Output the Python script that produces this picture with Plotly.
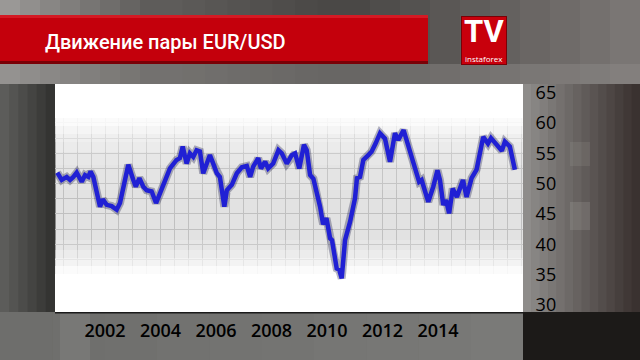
import plotly.graph_objects as go

# ---- data ----
years = [2000.28, 2000.44, 2000.62, 2000.74, 2000.86, 2000.98, 2001.16, 2001.28, 2001.40, 2001.48,
         2001.58, 2001.76, 2001.82, 2001.92, 2002.06, 2002.24, 2002.42, 2002.54, 2002.72, 2002.84,
         2003.02, 2003.11, 2003.24, 2003.38, 2003.50, 2003.68, 2003.84, 2003.96, 2004.16, 2004.34,
         2004.58, 2004.70, 2004.80, 2004.94, 2005.06, 2005.18, 2005.30, 2005.42, 2005.54, 2005.66,
         2005.78, 2005.90, 2006.03, 2006.14, 2006.30, 2006.39, 2006.57, 2006.75, 2006.93, 2007.11,
         2007.23, 2007.34, 2007.47, 2007.52, 2007.62, 2007.77, 2007.88, 2008.06, 2008.25, 2008.37,
         2008.55, 2008.73, 2008.85, 2009.00, 2009.17, 2009.27, 2009.39, 2009.51, 2009.75, 2009.86,
         2009.98, 2010.11, 2010.18, 2010.35, 2010.44, 2010.53, 2010.65, 2010.83, 2011.01, 2011.08,
         2011.19, 2011.31, 2011.49, 2011.61, 2011.75, 2011.91, 2012.09, 2012.27, 2012.45, 2012.57,
         2012.76, 2012.93, 2013.17, 2013.32, 2013.41, 2013.65, 2013.83, 2013.98, 2014.07, 2014.19,
         2014.29, 2014.40, 2014.53, 2014.68, 2014.90, 2015.03, 2015.21, 2015.39, 2015.63, 2015.80,
         2015.91, 2016.30, 2016.41, 2016.59, 2016.77]
values = [51.8, 50.6, 51.1, 50.6, 51.1, 51.8, 50.3, 51.4, 51.1, 52.0,
          51.1, 47.8, 46.2, 47.4, 46.5, 46.3, 45.7, 46.8, 50.6, 53.1,
          50.6, 49.5, 50.9, 49.5, 48.9, 48.7, 46.8, 48.1, 50.6, 52.5,
          53.9, 54.2, 56.1, 53.3, 55.0, 54.4, 55.5, 55.3, 51.7, 53.1,
          54.7, 53.3, 51.7, 51.1, 46.2, 48.9, 49.8, 51.7, 52.7, 52.9,
          51.1, 52.8, 53.6, 54.2, 52.5, 53.6, 52.5, 53.3, 55.5, 55.0,
          53.3, 54.7, 55.0, 52.5, 56.4, 55.5, 51.4, 50.8, 46.2, 43.3,
          44.3, 41.0, 40.7, 36.0, 35.8, 34.4, 40.7, 43.7, 47.6, 50.9,
          51.1, 53.9, 54.7, 55.3, 56.6, 58.3, 57.4, 53.6, 58.3, 57.2,
          58.8, 56.1, 52.8, 50.3, 50.6, 47.0, 49.5, 52.2, 50.6, 46.5,
          47.3, 45.1, 49.2, 47.8, 50.6, 47.8, 50.9, 52.3, 57.7, 56.6,
          57.5, 55.4, 56.9, 56.1, 52.3]

x_ticks = [2002, 2004, 2006, 2008, 2010, 2012, 2014]
x_tick_labels = ["2002", "2004", "2006", "2008", "2010", "2012", "2014"]
y_ticks = [30, 35, 40, 45, 50, 55, 60, 65]
y_tick_labels = ["30", "35", "40", "45", "50", "55", "60", "65"]
title_text = "Движение пары EUR/USD"

W, H = 640, 360
L, R, T, B = 55, 523, 84, 312
X_RANGE = [2000.198, 2017.063]
Y_RANGE = [28.85, 66.41]


def px_x(x):  # pixel -> plot-area paper fraction
    return (x - L) / (R - L)


def px_y(y):
    return (B - y) / (B - T)


fig = go.Figure()

# shadow + main line
fig.add_trace(go.Scatter(x=years, y=values, mode="lines",
                         line=dict(color="rgba(10,10,60,0.30)", width=8),
                         hoverinfo="skip", showlegend=False))
fig.add_trace(go.Scatter(x=years, y=values, mode="lines",
                         line=dict(color="#2020d4", width=4.5),
                         showlegend=False))

shapes = []


def prect(x0, y0, x1, y1, color, opacity=1.0, layer="below"):
    shapes.append(dict(type="rect", xref="paper", yref="paper",
                       x0=px_x(x0), x1=px_x(x1), y0=px_y(y1), y1=px_y(y0),
                       fillcolor=color, line=dict(width=0), layer=layer, opacity=opacity))


def hgrad(x0, x1, y0, y1, c0, c1, steps=12):
    # horizontal gradient made from thin strips
    def lerp(a, b, t):
        return int(a + (b - a) * t)
    r0, g0, b0 = int(c0[1:3], 16), int(c0[3:5], 16), int(c0[5:7], 16)
    r1, g1, b1 = int(c1[1:3], 16), int(c1[3:5], 16), int(c1[5:7], 16)
    w = (x1 - x0) / steps
    for i in range(steps):
        t = i / (steps - 1)
        col = "#%02x%02x%02x" % (lerp(r0, r1, t), lerp(g0, g1, t), lerp(b0, b1, t))
        prect(x0 + i * w, y0, x0 + (i + 1) * w + 0.5, y1, col)


# background outside the panel (blurred studio look)
hgrad(0, 160, 0, 84, "#9a9896", "#5e5c5a", 8)
hgrad(160, 340, 0, 84, "#5e5c5a", "#4a4846", 8)
hgrad(340, 640, 0, 84, "#4a4846", "#7a7674", 10)
prect(0, 64, 640, 84, "#8e8c8a", 0.45)
hgrad(0, 55, 84, 312, "#5c5c5a", "#343432", 6)
hgrad(523, 640, 84, 312, "#8e8c8a", "#3a3230", 14)
prect(570, 142, 590, 166, "#d0ccc8", 0.1)
prect(570, 202, 590, 230, "#e8e4e0", 0.12)
hgrad(0, 523, 312, 360, "#6e6e6c", "#7a7a78", 10)
prect(60, 312, 90, 360, "#8a8a88", 0.35)
prect(523, 312, 640, 360, "#1c1a18")
prect(55, 311, 523, 313.5, "#1a1a1a")

# banner
prect(0, 15, 428, 64, "#c4000c")
prect(0, 15, 428, 18, "#d8202a", 0.8)
prect(0, 61, 428, 64, "#7a0006")
# logo
prect(461, 16, 507, 65, "#7a0006")
prect(462, 17, 506, 64, "#c8000c")


def val_y(y):  # pixel row -> data value, for decorative fades
    return Y_RANGE[1] - (y - T) / (B - T) * (Y_RANGE[1] - Y_RANGE[0])


def frect(y0, y1, opacity):
    shapes.append(dict(type="rect", xref="x", yref="y",
                       x0=X_RANGE[0], x1=X_RANGE[1], y0=val_y(y1), y1=val_y(y0),
                       fillcolor="#ffffff", line=dict(width=0), layer="between",
                       opacity=opacity))


# fade grid to white at top
frect(84, 118, 1.0)
frect(118, 126, 0.85)
frect(126, 134, 0.65)
frect(134, 142, 0.45)
frect(142, 152, 0.3)
frect(152, 165, 0.18)
frect(165, 190, 0.08)
# fade to white at bottom
frect(240, 250, 0.15)
frect(250, 258, 0.35)
frect(258, 266, 0.6)
frect(266, 274, 0.85)
frect(274, 312, 1.0)

fig.update_layout(shapes=shapes)

fig.add_annotation(text=title_text, xref="paper", yref="paper",
                   x=px_x(43), y=px_y(42), xanchor="left", yanchor="middle",
                   showarrow=False,
                   font=dict(family="Roboto", size=20, color="white", weight=500))
fig.add_annotation(text="TV", xref="paper", yref="paper",
                   x=px_x(484), y=px_y(32), xanchor="center", yanchor="middle",
                   showarrow=False,
                   font=dict(family="Roboto", size=31, color="white", weight=700))
fig.add_annotation(text="instaforex", xref="paper", yref="paper",
                   x=px_x(484), y=px_y(58), xanchor="center", yanchor="middle",
                   showarrow=False,
                   font=dict(family="Open Sans", size=8, color="white"))

fig.update_layout(
    width=W, height=H, autosize=False,
    margin=dict(l=L, r=W - R, t=T, b=H - B, pad=0),
    paper_bgcolor="#5a5856",
    plot_bgcolor="#e2e2e2",
    xaxis=dict(range=X_RANGE, tickvals=x_ticks, ticktext=x_tick_labels,
               showgrid=True, gridcolor="#c0c0c0", gridwidth=1,
               minor=dict(dtick=0.5, tick0=2002, showgrid=True, gridcolor="#c0c0c0", gridwidth=1),
               zeroline=False, showline=False,
               ticks="outside", ticklen=2, tickcolor="rgba(0,0,0,0)",
               tickfont=dict(family="Open Sans", size=18, color="#000000", weight=600)),
    yaxis=dict(range=Y_RANGE, tickvals=y_ticks, ticktext=y_tick_labels, side="right",
               showgrid=True, gridcolor="#c0c0c0", gridwidth=1,
               minor=dict(dtick=2.5, tick0=30, showgrid=True, gridcolor="#c0c0c0", gridwidth=1),
               zeroline=False, showline=False,
               ticks="outside", ticklen=8, tickcolor="rgba(0,0,0,0)",
               tickfont=dict(family="Open Sans", size=18, color="#000000", weight=500)),
)

fig.write_html("out.html")
